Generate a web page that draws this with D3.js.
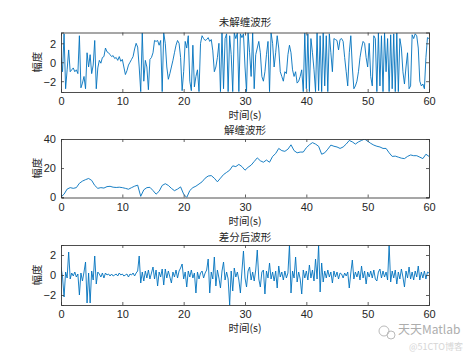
<!DOCTYPE html>
<html><head><meta charset="utf-8">
<script src="https://cdn.jsdelivr.net/npm/d3@7"></script>
<style>
html,body{margin:0;padding:0;background:#fff;}
svg{display:block;}
</style></head>
<body>
<script>
// ---- data ----
const xTicks = [0, 10, 20, 30, 40, 50, 60];
const titles = ["未解缠波形", "解缠波形", "差分后波形"];
const xLabel = "时间(s)";
const yLabel = "幅度";
const yTicks1 = [-2, 0, 2];
const yTicks2 = [0, 20, 40];
const yTicks3 = [-2, 0, 2];
const step1 = 0.25;   // seconds between samples, panel 1 and 3
const step2 = 0.5;    // seconds between samples, panel 2

const wrapped = [
 0.5,-1.0,3.0,-2.8, -0.8,1.3,-1.0,-0.8, -0.6,-1.0,-0.8,-1.2, 2.8,-2.7,-2.2,-1.5,
 -2.8,1.0,-0.5,0.8, -1.2,-0.3,2.3,-2.8, -0.6,0.2,-0.1,0.5, 0.6,1.5,1.1,1.0,
 0.8,0.6,0.7,0.4, 0.5,0.2,0.6,0.1, 0.3,-0.5,-1.3,-0.9, -0.3,0.0,0.3,0.6,
 1.4,2.0,1.6,-0.5, -3.1,3.1,-2.0,0.2, -0.5,-2.9,0.3,0.5, 1.0,2.3,2.2,2.3,
 1.8,2.3,-3.1,3.1, 2.0,-0.5,-1.8,-1.2, -0.5,0.2,1.0,1.8, 2.3,2.0,0.5,-3.0,
 -1.0,2.2,1.5,2.8, -2.0,-3.0,1.8,-2.6, -1.5,-0.8,-3.1,2.0, 2.8,2.5,2.3,2.4,
 2.6,2.2,2.4,1.2, -1.0,-0.5,0.5,2.0, -3.1,3.1,-2.8,2.5, 3.0,-3.1,2.8,0.8,
 -3.1,3.1,2.5,3.1, -3.1,3.0,2.6,3.0, -0.5,-3.1,3.1,1.0, -1.5,3.1,-2.8,0.8,
 1.5,2.2,1.0,-1.5, -2.0,-1.0,0.8,2.2, -3.1,3.1,2.0,-0.5, 1.0,2.8,1.5,-1.0,
 -1.5,-2.0,-1.0,-1.2, 0.8,1.8,1.0,-0.8, -1.5,-1.0,-2.2,-2.0, -1.5,-0.8,-3.1,3.1,
 -2.8,3.0,-3.1,2.5, 1.0,-0.8,-3.1,3.1, -3.0,2.8,-3.1,3.1, -2.5,2.8,-3.1,3.0,
 1.0,-1.0,2.5,2.4, 2.3,1.3,2.4,2.5, 2.2,0.5,-1.0,-2.5, 1.0,2.8,-0.5,-2.8,
 -2.5,-2.0,-1.0,0.5, 1.5,2.2,2.0,0.5, -0.5,2.0,-1.5,-2.5, 2.8,2.5,-3.1,3.1,
 -2.5,2.8,-3.1,3.1, -1.0,2.5,-3.1,2.9, -2.8,3.0,-3.1,3.1, -3.1,2.5,1.5,-1.0,
 -2.3,-0.5,1.0,-2.8, -2.5,2.9,2.5,3.0, 2.8,1.5,-2.0,-2.5, -2.3,-2.8,0.5,2.6,
 2.5
];

const unwrapped = [
 0,2,5.5,6.5,6,6.5,9.5,11,12,12.8,11.5,8,6,6.5,6.2,7.2,7.4,6.8,6.6,6.8,
 6.5,6.0,5.4,6.5,7.5,8.2,0.5,5,6.5,6.7,4.5,2,4,8,9.2,8,6,4.4,5.5,7,
 2,-0.3,4.5,6.5,7.5,9,10.5,13,14.5,14.8,13,10.5,13,15.5,17,18.5,21.5,21,22.5,21,
 18.5,20.5,22,24.5,27,25,24,25.5,24,28,30,33.5,32,31.5,33,36,32,30.5,31,31,
 34,36,37.5,36.5,35,29.5,30.5,33,35.8,35,34.5,33.5,34.5,36.5,39,38,36.5,38,39,40,
 38.5,37,35.8,35,34.5,33.5,33.5,30.5,28,28.2,27.5,26.8,26.5,28,29,28.5,28.5,27.5,26.5,29.5,
 28
];

const diffed = [
 0.8,-0.2,-2.2,0.3, -0.3,2.3,-0.4,0.2, -0.1,0.3,-0.2,0.1, -2.0,0.2,-0.6,0.3,
 1.3,-2.8,0.2,-2.8, 0.4,-0.5,1.9,-0.9, 0.3,0.1,-0.2,0.2, -0.3,0.2,0.0,0.1,
 -0.1,0.1,-0.1,0.0, 0.1,-0.1,0.2,0.0, 0.1,-0.1,0.0,0.1, -0.2,0.1,0.0,0.2,
 -0.1,0.2,0.4,1.9, -0.8,0.3,-0.6,0.4, -0.3,0.5,-0.4,0.2, 0.8,-0.4,0.5,-1.1,
 0.3,-0.2,0.6,-1.0, 0.6,-0.3,0.4,-0.2, -0.8,0.3,-0.2,0.5, -0.3,0.4,0.7,1.1,
 -0.4,0.3,-1.2,0.4, -0.2,0.5,-0.3,0.2, -1.8,0.3,-0.4,0.2, 0.4,-0.3,0.2,0.5,
 1.6,-1.8,0.3,-0.4, 1.8,-1.1,0.5,-0.3, -1.3,0.4,1.3,-0.5, 0.3,-0.4,-3.0,0.4,
 -1.6,0.7,-0.2,0.3, -0.5,-1.8,0.4,2.4, -0.3,-1.2,0.4,0.8, -0.5,0.3,-0.6,0.5,
 2.5,-0.4,-1.2,0.3, 0.5,-1.9,0.4,-0.3, 1.2,-0.4,0.3,-0.6, 0.4,-1.3,0.9,-0.2,
 0.3,-0.5,0.4,-0.3, 0.2,3.0,-1.8,0.4, -0.3,1.8,-0.7,0.3, -0.4,-1.9,0.5,-0.3,
 0.4,-0.5,1.0,-0.3, 0.5,-0.6,1.6,-0.4, 3.0,-1.7,1.2,-0.7, 0.4,-0.3,0.5,-0.2,
 0.3,-0.8,0.4,-0.2, 0.3,-0.4,0.2,0.1, -0.3,0.2,-0.1,0.3, -1.3,0.2,1.5,-0.4,
 0.3,-0.2,0.4,-0.5, 0.9,-0.3,0.4,-0.9, 0.3,-0.2,0.4,-0.3, 0.5,-0.4,-0.6,0.3,
 0.6,-0.3,0.4,-0.2, 0.3,-0.5,3.0,-0.7, 0.4,-0.3,0.5,-0.9, 0.3,-0.4,0.6,-0.2,
 -1.2,0.4,-0.3,0.8, -0.4,0.3,-0.5,0.4, -0.2,0.9,-0.5,0.3, -0.3,0.4,-0.4,0.3,
 0.2
];

// ---- drawing ----
const W = 474, H = 355;
const svg = d3.select("body").append("svg").attr("width", W).attr("height", H);
const axisColor = "#3a3a3a";
const lineColor = "#0072BD";
const tickFont = "'Liberation Sans', Arial, sans-serif";
const cjkFont = "'Noto Sans CJK SC', sans-serif";
const cjkSize = 10.5;

const x = d3.scaleLinear().domain([0, 60]).range([61, 429]);

const panels = [
  {values: wrapped, step: step1, yDomain: [-3.1416, 3.1416], yTicks: yTicks1, top: 32.5, bottom: 92, title: titles[0], titleY: 23.5, tickY: 102.5, labelY: 116},
  {values: unwrapped, step: step2, yDomain: [-0.3, 40], yTicks: yTicks2, top: 139, bottom: 197.5, title: titles[1], titleY: 131.2, tickY: 208.5, labelY: 222.3},
  {values: diffed, step: step1, yDomain: [-3, 3], yTicks: yTicks3, top: 245, bottom: 305, title: titles[2], titleY: 237.8, tickY: 315, labelY: 329}
];

panels.forEach((p, i) => {
  const y = d3.scaleLinear().domain(p.yDomain).range([p.bottom, p.top]);
  const g = svg.append("g");
  const clipId = "clip" + i;
  svg.append("clipPath").attr("id", clipId).append("rect")
    .attr("x", x(0)).attr("y", p.top).attr("width", x(60) - x(0)).attr("height", p.bottom - p.top);

  const line = d3.line().x((d, k) => x(k * p.step)).y(d => y(d));
  g.append("path").datum(p.values)
    .attr("clip-path", `url(#${clipId})`)
    .attr("fill", "none").attr("stroke", lineColor).attr("stroke-width", 0.9)
    .attr("stroke-linejoin", "round")
    .attr("d", line);

  const tl = 3;
  const bottomAxis = d3.axisBottom(x).tickValues(xTicks).tickSize(-tl).tickFormat(d3.format("d"));
  const topAxis = d3.axisTop(x).tickValues(xTicks).tickSize(-tl).tickFormat("");
  const leftAxis = d3.axisLeft(y).tickValues(p.yTicks).tickSize(-tl).tickPadding(5).tickFormat(d3.format("d"));
  const rightAxis = d3.axisRight(y).tickValues(p.yTicks).tickSize(-tl).tickFormat("");

  const gb = g.append("g").attr("transform", `translate(0,${p.bottom})`).call(bottomAxis);
  const gt = g.append("g").attr("transform", `translate(0,${p.top})`).call(topAxis);
  const gl = g.append("g").attr("transform", `translate(${x(0)},0)`).call(leftAxis);
  const gr = g.append("g").attr("transform", `translate(${x(60)},0)`).call(rightAxis);
  [gb, gt, gl, gr].forEach(a => {
    a.selectAll("path.domain").attr("stroke", axisColor).attr("stroke-width", 0.9);
    a.selectAll(".tick line").attr("stroke", axisColor).attr("stroke-width", 0.8);
    a.selectAll(".tick text").attr("fill", "#262626").attr("font-family", tickFont).attr("font-size", 11);
  });
  gb.selectAll(".tick text").attr("dy", null)
    .attr("dominant-baseline", "middle").attr("y", p.tickY - p.bottom);
  gl.selectAll(".tick text").attr("dy", "0.35em");

  svg.append("text").attr("x", 245).attr("y", p.titleY).attr("text-anchor", "middle")
    .attr("dominant-baseline", "middle")
    .attr("font-family", cjkFont).attr("font-size", cjkSize).attr("fill", "#262626").text(p.title);
  svg.append("text").attr("x", 245).attr("y", p.labelY).attr("text-anchor", "middle")
    .attr("dominant-baseline", "middle")
    .attr("font-family", cjkFont).attr("font-size", cjkSize).attr("fill", "#262626").text(xLabel);
  svg.append("text").attr("transform", `translate(38.5,${(p.top + p.bottom) / 2}) rotate(-90)`)
    .attr("text-anchor", "middle").attr("dominant-baseline", "middle")
    .attr("font-family", cjkFont).attr("font-size", cjkSize).attr("fill", "#262626").text(yLabel);
});

// watermark
const wm = svg.append("g").attr("opacity", 0.8);
wm.append("circle").attr("cx", 384).attr("cy", 331).attr("r", 5).attr("fill", "none").attr("stroke", "#aaa").attr("stroke-width", 1);
wm.append("circle").attr("cx", 391).attr("cy", 335).attr("r", 4).attr("fill", "none").attr("stroke", "#aaa").attr("stroke-width", 1);
wm.append("text").attr("x", 398).attr("y", 331).attr("dominant-baseline", "middle")
  .attr("font-family", cjkFont).attr("font-size", 12).attr("fill", "#999").text("天天Matlab");
wm.append("text").attr("x", 409).attr("y", 347.5).attr("dominant-baseline", "middle")
  .attr("font-family", cjkFont).attr("font-size", 9).attr("fill", "#ccc").text("@51CTO博客");
</script>
</body></html>
